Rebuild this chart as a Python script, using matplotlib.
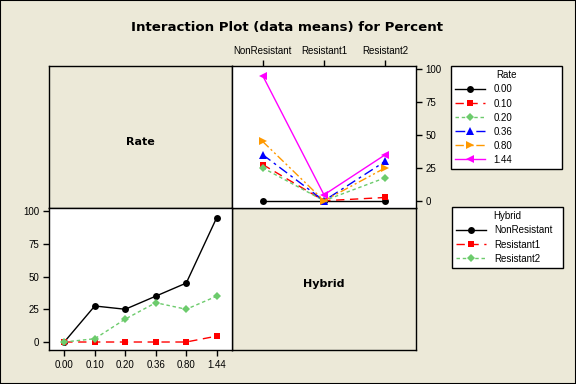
import matplotlib
matplotlib.use("Agg")
import matplotlib.pyplot as plt
from matplotlib.patches import Rectangle
import numpy as np

plt.rcParams['font.family'] = ['Liberation Sans', 'DejaVu Sans']

# ---- data ----
rates = ["0.00", "0.10", "0.20", "0.36", "0.80", "1.44"]
hybrids = ["NonResistant", "Resistant1", "Resistant2"]
nonresistant = [0, 27.5, 25, 35, 45, 95]
resistant1 = [0, 0, 0, 0, 0, 4.5]
resistant2 = [0, 2.5, 17.5, 30, 25, 35]
yticks = [0, 25, 50, 75, 100]
title = "Interaction Plot (data means) for Percent"

means = np.array([nonresistant, resistant1, resistant2])  # hybrid x rate

BG = "#ECE9D8"
W, H = 576, 384
FS = 7
fig = plt.figure(figsize=(W / 100, H / 100), dpi=100, facecolor=BG)

def rect(x0, y0, x1, y1):
    return [x0 / W, 1 - y1 / H, (x1 - x0) / W, (y1 - y0) / H]

# styles
rate_styles = [
    dict(color="black", marker="o", ms=5, ls="-"),
    dict(color="#FF0000", marker="s", ms=5, dashes=(6, 4)),
    dict(color="#6CCB6C", marker="D", ms=4.5, dashes=(2.5, 2)),
    dict(color="#0000FF", marker="^", ms=6, dashes=(7, 3, 2, 3)),
    dict(color="#FF9900", marker=">", ms=6, dashes=(6, 2, 1.5, 2, 1.5, 2)),
    dict(color="#FF00FF", marker="<", ms=6, ls="-"),
]
hybrid_styles = [rate_styles[0], rate_styles[1], rate_styles[2]]

def style_axes(ax):
    for s in ax.spines.values():
        s.set_color("black")
        s.set_linewidth(1.0)
    ax.tick_params(direction="out", length=4, width=1, labelsize=FS, colors="black", pad=3)

# top-left cell: "Rate" label
ax_tl = fig.add_axes(rect(49, 66, 232, 208), facecolor=BG)
ax_tl.set_xticks([]); ax_tl.set_yticks([])
style_axes(ax_tl)
ax_tl.text(0.5, 0.5 - 5 / 142, "Rate", transform=ax_tl.transAxes, ha="center", va="center",
           fontsize=8, fontweight="bold", family="DejaVu Sans")

# bottom-right cell: "Hybrid" label
ax_br = fig.add_axes(rect(232, 208, 416, 350), facecolor=BG)
ax_br.set_xticks([]); ax_br.set_yticks([])
style_axes(ax_br)
ax_br.text(0.5, 0.5 - 5 / 142, "Hybrid", transform=ax_br.transAxes, ha="center", va="center",
           fontsize=8, fontweight="bold", family="DejaVu Sans")

# top-right: x = Hybrid, lines = Rate
ax_tr = fig.add_axes(rect(232, 66, 416, 208), facecolor="white")
xh = np.arange(len(hybrids))
rate_handles = []
for j, r in enumerate(rates):
    st = dict(rate_styles[j])
    h, = ax_tr.plot(xh, means[:, j], lw=1.0, markeredgewidth=0, **st)
    rate_handles.append(h)
ax_tr.set_xlim(-0.5, 2.5)
ax_tr.set_ylim(-5.5, 102.3)
ax_tr.set_xticks(xh)
ax_tr.set_xticklabels(hybrids)
ax_tr.set_yticks(yticks)
ax_tr.xaxis.tick_top()
ax_tr.yaxis.tick_right()
style_axes(ax_tr)

# bottom-left: x = Rate, lines = Hybrid
ax_bl = fig.add_axes(rect(49, 208, 232, 350), facecolor="white")
xr = np.arange(len(rates))
hyb_handles = []
for i, hname in enumerate(hybrids):
    st = dict(hybrid_styles[i])
    h, = ax_bl.plot(xr, means[i, :], lw=1.0, markeredgewidth=0, **st)
    hyb_handles.append(h)
ax_bl.set_xlim(-0.5, 5.5)
ax_bl.set_ylim(-6.1, 102.3)
ax_bl.set_xticks(xr)
ax_bl.set_xticklabels(rates)
ax_bl.set_yticks(yticks)
style_axes(ax_bl)

# legends
def make_legend(handles, labels, ttl, x0, y0, x1):
    leg = fig.legend(handles, labels, title=ttl, loc="upper left",
                     bbox_to_anchor=(x0 / W, 1 - y0 / H, (x1 - x0) / W, 0),
                     mode="expand", borderaxespad=0, fontsize=FS, title_fontsize=FS,
                     frameon=True, fancybox=False, edgecolor="black", framealpha=1,
                     handlelength=3.0, handletextpad=0.9, labelspacing=0.42,
                     borderpad=0.45)
    leg.get_frame().set_linewidth(1.0)
    return leg

make_legend(rate_handles, rates, "Rate", 451, 66, 562)
make_legend(hyb_handles, hybrids, "Hybrid", 452, 207, 563)

fig.text(287 / W, 1 - 28 / H, title, ha="center", va="center", fontsize=9.6,
         fontweight="bold", family="DejaVu Sans")

fig.add_artist(Rectangle((0, 0), 1, 1, transform=fig.transFigure, fill=False,
                         edgecolor="black", linewidth=1.5))

fig.savefig("out.png", dpi=100, facecolor=BG)
